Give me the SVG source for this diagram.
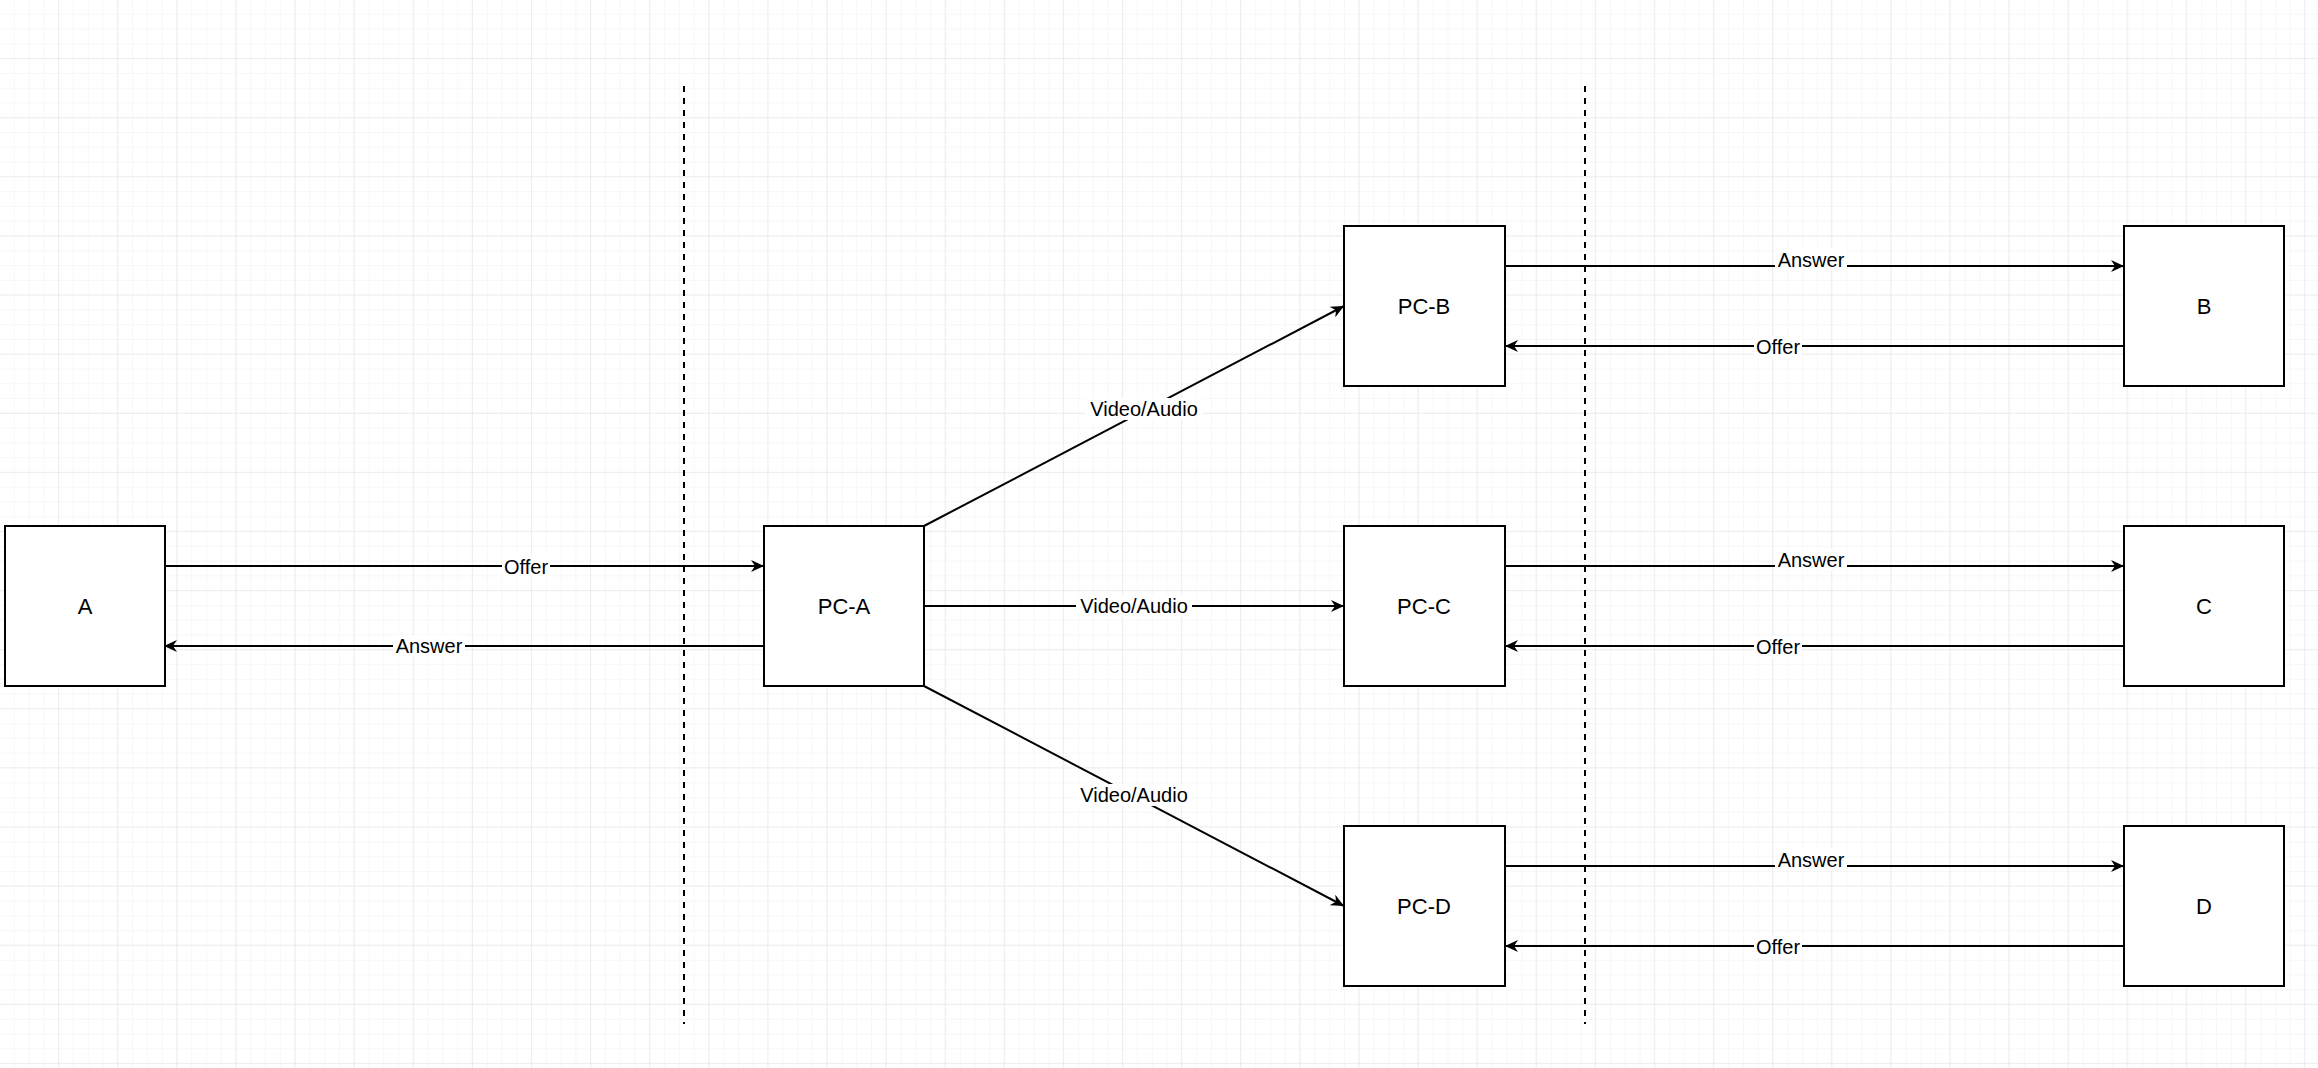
<svg xmlns="http://www.w3.org/2000/svg" width="2318" height="1068" viewBox="0 0 2318 1068">
<style>
.box{fill:#fff;stroke:#000;stroke-width:2}
.nt{font-family:"Liberation Sans",Arial,sans-serif;font-size:22px;text-anchor:middle;dominant-baseline:central}
.lt{font-family:"Liberation Sans",Arial,sans-serif;font-size:20px;text-anchor:middle;dominant-baseline:central}
.ln{stroke:#000;stroke-width:2;fill:none}
.dash{stroke:#000;stroke-width:2;stroke-dasharray:6 6}
.lb{fill:#fff}
</style>
<defs>
<pattern id="g" width="14.78" height="14.78" patternUnits="userSpaceOnUse"><path d="M14.78 0V14.78H0" fill="none" stroke="#efefef" stroke-width="1"/></pattern>
<pattern id="G" width="59.1" height="59.1" patternUnits="userSpaceOnUse"><path d="M59.1 0V59.1H0" fill="none" stroke="#e2e2e2" stroke-width="1"/></pattern>
<marker id="ar" markerWidth="14" markerHeight="12" refX="13" refY="6" orient="auto" markerUnits="userSpaceOnUse"><path d="M0 0L13 6L0 12L4 6Z" fill="#000"/></marker>
</defs>
<rect width="2318" height="1068" fill="#fff"/>
<rect width="2318" height="1068" fill="url(#g)"/>
<rect width="2318" height="1068" fill="url(#G)"/>
<g id="separators">
<line class="dash" x1="684" y1="86" x2="684" y2="1024"/>
<line class="dash" x1="1585" y1="86" x2="1585" y2="1024"/>
</g>
<g id="connectors">
<line class="ln" x1="164" y1="566" x2="764" y2="566" marker-end="url(#ar)"/>
<rect class="lb" x="502" y="555" width="48" height="22"/><text class="lt" x="526" y="567">Offer</text>
<line class="ln" x1="764" y1="646" x2="164" y2="646" marker-end="url(#ar)"/>
<rect class="lb" x="393" y="635" width="72" height="22"/><text class="lt" x="429" y="646">Answer</text>
<line class="ln" x1="924" y1="526" x2="1344" y2="306" marker-end="url(#ar)"/>
<rect class="lb" x="1086" y="398" width="116" height="22"/><text class="lt" x="1144" y="409">Video/Audio</text>
<line class="ln" x1="924" y1="606" x2="1344" y2="606" marker-end="url(#ar)"/>
<rect class="lb" x="1076" y="595" width="116" height="22"/><text class="lt" x="1134" y="606">Video/Audio</text>
<line class="ln" x1="924" y1="686" x2="1344" y2="906" marker-end="url(#ar)"/>
<rect class="lb" x="1076" y="784" width="116" height="22"/><text class="lt" x="1134" y="795">Video/Audio</text>
<line class="ln" x1="1505" y1="266" x2="2124" y2="266" marker-end="url(#ar)"/>
<rect class="lb" x="1775" y="249" width="72" height="22"/><text class="lt" x="1811" y="260">Answer</text>
<line class="ln" x1="2124" y1="346" x2="1505" y2="346" marker-end="url(#ar)"/>
<rect class="lb" x="1754" y="336" width="48" height="22"/><text class="lt" x="1778" y="347">Offer</text>
<line class="ln" x1="1505" y1="566" x2="2124" y2="566" marker-end="url(#ar)"/>
<rect class="lb" x="1775" y="549" width="72" height="22"/><text class="lt" x="1811" y="560">Answer</text>
<line class="ln" x1="2124" y1="646" x2="1505" y2="646" marker-end="url(#ar)"/>
<rect class="lb" x="1754" y="636" width="48" height="22"/><text class="lt" x="1778" y="647">Offer</text>
<line class="ln" x1="1505" y1="866" x2="2124" y2="866" marker-end="url(#ar)"/>
<rect class="lb" x="1775" y="849" width="72" height="22"/><text class="lt" x="1811" y="860">Answer</text>
<line class="ln" x1="2124" y1="946" x2="1505" y2="946" marker-end="url(#ar)"/>
<rect class="lb" x="1754" y="936" width="48" height="22"/><text class="lt" x="1778" y="947">Offer</text>
</g>
<g id="A"><rect class="box" x="5" y="526" width="160" height="160"/><text class="nt" x="85" y="606">A</text></g>
<g id="PC-A"><rect class="box" x="764" y="526" width="160" height="160"/><text class="nt" x="844" y="606">PC-A</text></g>
<g id="PC-B"><rect class="box" x="1344" y="226" width="161" height="160"/><text class="nt" x="1424" y="306">PC-B</text></g>
<g id="PC-C"><rect class="box" x="1344" y="526" width="161" height="160"/><text class="nt" x="1424" y="606">PC-C</text></g>
<g id="PC-D"><rect class="box" x="1344" y="826" width="161" height="160"/><text class="nt" x="1424" y="906">PC-D</text></g>
<g id="B"><rect class="box" x="2124" y="226" width="160" height="160"/><text class="nt" x="2204" y="306">B</text></g>
<g id="C"><rect class="box" x="2124" y="526" width="160" height="160"/><text class="nt" x="2204" y="606">C</text></g>
<g id="D"><rect class="box" x="2124" y="826" width="160" height="160"/><text class="nt" x="2204" y="906">D</text></g>
</svg>
